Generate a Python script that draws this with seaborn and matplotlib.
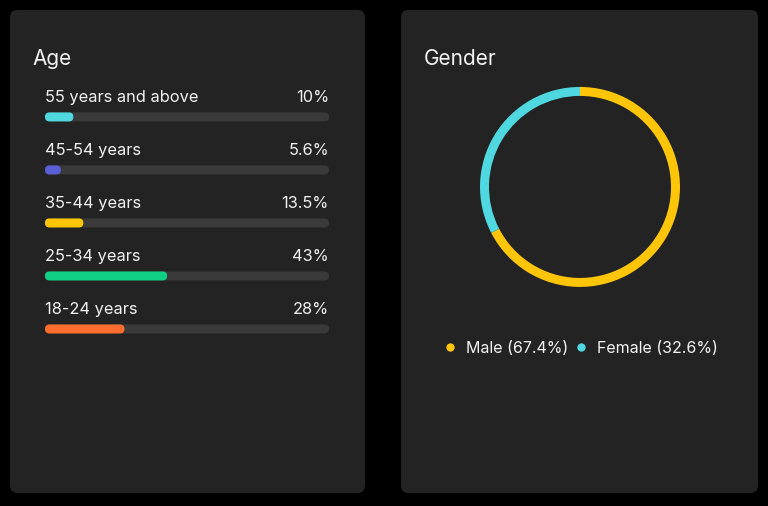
import matplotlib
matplotlib.use('Agg')
import matplotlib.pyplot as plt
from matplotlib.patches import FancyBboxPatch
from matplotlib.lines import Line2D
import seaborn as sns
import pandas as pd

# ========== data ==========
age_groups = ['55 years and above', '45-54 years', '35-44 years', '25-34 years', '18-24 years']
age_values = [10, 5.6, 13.5, 43, 28]
age_labels = ['10%', '5.6%', '13.5%', '43%', '28%']
age_colors = ['#4fd8df', '#5a5fd8', '#ffc609', '#10d085', '#ff6d2e']

gender_names = ['Male', 'Female']
gender_values = [67.4, 32.6]
gender_colors = ['#ffc609', '#4fd8df']

# ========== style ==========
W, H = 768, 506
BG = '#000000'
PANEL = '#232323'
TRACK = '#3a3a3a'
TXT = '#f2f2f2'

sns.set_theme(style='white')
plt.rcParams['font.family'] = ['Inter', 'DejaVu Sans']

fig = plt.figure(figsize=(W / 100, H / 100 + 0.001), dpi=100, facecolor=BG)


def px_axes(left, top, width, height):
    # axes placed by pixel box (top-left origin)
    return fig.add_axes([left / W, 1 - (top + height) / H, width / W, height / H])


# panel backgrounds
for x0, x1 in [(10, 365), (401, 758)]:
    fig.patches.append(FancyBboxPatch(
        (x0 / W, 1 - 493 / H), (x1 - x0) / W, (493 - 10) / H,
        boxstyle='round,pad=0,rounding_size=0.01', mutation_aspect=W / H,
        transform=fig.transFigure, facecolor=PANEL, edgecolor='none', zorder=-5))

fig.text(32 / W, 1 - 59 / H, 'Age', color=TXT, fontsize=15, va='center', ha='left')
fig.text(424 / W, 1 - 59 / H, 'Gender', color=TXT, fontsize=15, va='center', ha='left')

# ========== age bars ==========
ROW = 53
top_px = 117 - 0.9 * ROW
ax = px_axes(45, top_px, 284, 5.4 * ROW)
df = pd.DataFrame({'group': age_groups, 'value': age_values})

sns.barplot(data=df, y='group', x=[100] * len(df), color=TRACK, width=0.17,
            saturation=1, orient='h', ax=ax, zorder=1)
sns.barplot(data=df, y='group', x='value', hue='group', palette=age_colors,
            width=0.17, saturation=1, orient='h', legend=False, ax=ax, zorder=2)
ax.set_xlim(0, 100)
ax.set_ylim(4.5, -0.9)

# swap square bars for rounded ones
x_per_px = 100 / 284
y_per_px = 1 / ROW
for p in list(ax.patches):
    x, y = p.get_x(), p.get_y()
    w, h = p.get_width(), p.get_height()
    ax.add_patch(FancyBboxPatch(
        (x, y), w, h, boxstyle='round,pad=0,rounding_size=%f' % (4.5 * x_per_px),
        mutation_aspect=y_per_px / x_per_px,
        facecolor=p.get_facecolor(), edgecolor='none', zorder=p.get_zorder()))
    p.remove()

for i, (name, lab) in enumerate(zip(age_groups, age_labels)):
    ax.text(0, i - 0.375, name, color=TXT, fontsize=11.8, ha='left', va='center')
    ax.text(100, i - 0.375, lab, color=TXT, fontsize=11.8, ha='right', va='center')

ax.axis('off')

# ========== gender donut ==========
R = 100
ax2 = px_axes(580 - 1.1 * R, 187 - 1.1 * R, 2.2 * R, 2.2 * R)
ax2.pie(gender_values, colors=gender_colors, startangle=90, counterclock=False,
        radius=1, wedgeprops=dict(width=0.09, edgecolor='none'))
ax2.set_xlim(-1.1, 1.1)
ax2.set_ylim(-1.1, 1.1)
ax2.set_aspect('equal')
ax2.axis('off')

handles = [Line2D([], [], marker='o', linestyle='none', markersize=6,
                  markerfacecolor=c, markeredgecolor='none') for c in gender_colors]
labels = ['%s (%.1f%%)' % (n, v) for n, v in zip(gender_names, gender_values)]
fig.legend(handles, labels, loc='center', bbox_to_anchor=(580 / W, 1 - 348 / H),
           ncol=2, frameon=False, fontsize=11.5, labelcolor=TXT,
           handletextpad=0.5, columnspacing=0.3, handlelength=1.0)

fig.savefig('out.png', dpi=100, facecolor=BG)
